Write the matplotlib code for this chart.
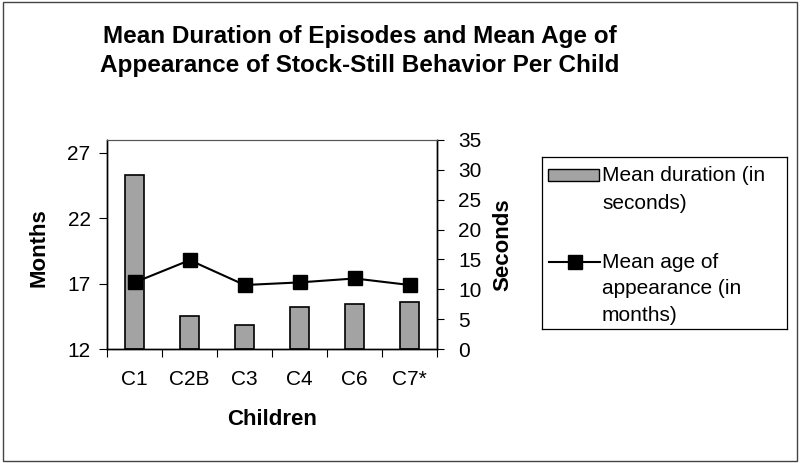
import matplotlib
matplotlib.use('Agg')
import matplotlib.pyplot as plt
from matplotlib.patches import Rectangle

plt.rcParams['font.family'] = ['Liberation Sans', 'DejaVu Sans']

children = ['C1', 'C2B', 'C3', 'C4', 'C6', 'C7*']
duration_sec = [29.1, 5.6, 4.1, 7.1, 7.5, 7.8]
age_months = [17.1, 18.8, 16.9, 17.1, 17.4, 16.9]

month_ticks = [12, 17, 22, 27]
second_ticks = [0, 5, 10, 15, 20, 25, 30, 35]

bar_color = '#a3a3a3'

fig = plt.figure(figsize=(8, 4.63), dpi=100)

# outer frame of the whole chart
fig.patches.append(Rectangle((0.004, 0.004), 0.992, 0.992, transform=fig.transFigure,
                             fill=False, edgecolor='#444444', linewidth=1.0))

ax = fig.add_axes([0.134, 0.246, 0.4125, 0.452])
ax2 = ax.twinx()

x = list(range(len(children)))
ax2.bar(x, duration_sec, width=0.35, color=bar_color, edgecolor='black', linewidth=1.2)
ax.plot(x, age_months, color='black', linewidth=1.5, marker='s', markersize=10)

# line above the bars
ax.set_zorder(ax2.get_zorder() + 1)
ax.patch.set_visible(False)

ax.set_xlim(-0.5, len(children) - 0.5)
ax.set_ylim(12, 28)
ax2.set_ylim(0, 35)

ax.set_yticks(month_ticks)
ax2.set_yticks(second_ticks)
ax.set_xticks(x)
ax.set_xticklabels(children)
ax.set_xticks([i - 0.5 for i in range(len(children) + 1)], minor=True)

ax.tick_params(axis='x', which='major', length=0, pad=15, labelsize=15)
ax.tick_params(axis='x', which='minor', length=6, direction='out', width=0.8)
ax.tick_params(axis='y', length=6, width=0.8, pad=6, labelsize=15)
ax2.tick_params(axis='y', length=5, width=0.8, pad=10, labelsize=15)

for a in (ax, ax2):
    for side in ('left', 'right', 'bottom'):
        a.spines[side].set_color('black')
        a.spines[side].set_linewidth(1.0)
    a.spines['top'].set_color('#555555')

ax.set_xlabel('Children', fontsize=16, fontweight='bold', va='center')
ax.xaxis.set_label_coords(0.5, -0.335)
ax.set_ylabel('Months', fontsize=16, fontweight='bold', va='center', ha='center')
ax.yaxis.set_label_coords(-0.206, 0.483)
ax2.set_ylabel('Seconds', fontsize=16, fontweight='bold', va='center', ha='center', rotation=90)
ax2.yaxis.set_label_coords(1.2, 0.5)

fig.text(0.45, 0.89, 'Mean Duration of Episodes and Mean Age of\nAppearance of Stock-Still Behavior Per Child',
         ha='center', va='center', fontsize=17.5, fontweight='bold', linespacing=1.3)

# legend box, drawn in pixel-like units from its top-left corner
leg = fig.add_axes([0.6775, 0.2894, 0.30625, 0.3715])
leg.set_xlim(0, 245)
leg.set_ylim(172, 0)
leg.set_xticks([])
leg.set_yticks([])
for s in leg.spines.values():
    s.set_linewidth(0.9)
    s.set_color('black')
leg.add_patch(Rectangle((6, 12), 51, 12, facecolor=bar_color, edgecolor='black', linewidth=1.0))
leg.plot([7, 58], [105, 105], color='black', linewidth=1.5)
leg.plot([32.5], [105], marker='s', markersize=10, color='black')

for y, t in [(18, 'Mean duration (in'), (46, 'seconds)'),
             (105, 'Mean age of'), (131, 'appearance (in'), (158, 'months)')]:
    leg.text(60, y, t, ha='left', va='center', fontsize=15)

fig.savefig('out.png', dpi=100)
